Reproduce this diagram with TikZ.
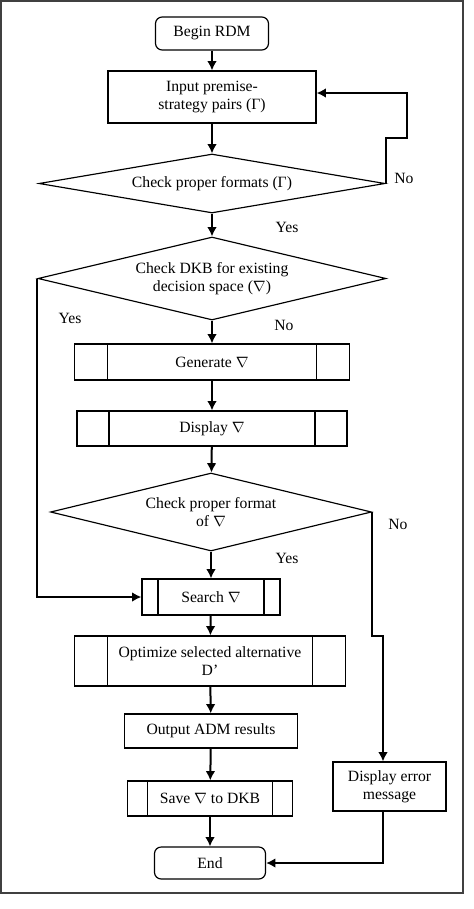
\documentclass[tikz,border=0pt]{standalone}
\usepackage{fontspec}
\setmainfont{Liberation Serif}
\usepackage{tikz}
\usepackage{xcolor}
\usetikzlibrary{arrows.meta}
\usetikzlibrary{shapes}
\usetikzlibrary{shapes.geometric}

\begin{document}
\begin{tikzpicture}[x=0.6pt, y=-0.6pt, >={Latex[length=5.6pt,width=5.8pt]},
		every node/.style={font=\fontsize{9.4}{10.8}\selectfont, align=center, inner sep=0pt},
		box/.style={draw, line width=0.7pt, rectangle},
		term/.style={box, rounded corners=4pt},
		subproc/.style={box, path picture={
			\draw[line width=0.7pt] ([xshift=#1]path picture bounding box.north west) -- ([xshift=#1]path picture bounding box.south west);
			\draw[line width=0.7pt] ([xshift=-#1]path picture bounding box.north east) -- ([xshift=-#1]path picture bounding box.south east);}},
		decision/.style={draw, line width=0.7pt, diamond, aspect=#1},
		flow/.style={->, line width=1.2pt}]
		%
		%frame
		\useasboundingbox (0,0) rectangle (474,909);
		\draw[line width=1.4pt, gray!50!black] (1,1) rectangle (463,893);
		%
		%main column
		\node[term, minimum width=67.8pt, minimum height=19.8pt] (begin) at (212,33.5) {Begin RDM};
		\node[box, minimum width=124.8pt, minimum height=31.2pt] (input) at (212,97) {Input premise-\\strategy pairs (Γ)};
		\node[decision=5.9, minimum width=207.6pt, minimum height=35.4pt] (chkfmt) at (212,183.5) {Check proper formats (Γ)};
		\node[decision=4.2, minimum width=208.8pt, minimum height=49.8pt] (chkdkb) at (212,278.5) {Check DKB for existing\\decision space ($\nabla$)};
		\node[subproc=19.8pt, minimum width=165pt, minimum height=21.6pt] (gen) at (212,362) {Generate $\nabla$};
		\node[subproc=19.2pt, minimum width=162pt, minimum height=21pt] (disp) at (212,428.5) {Display $\nabla$};
		\node[decision=4.1, minimum width=192.6pt, minimum height=46.8pt] (chkspace) at (211,512) {Check proper format\\of $\nabla$};
		\node[subproc=9.6pt, minimum width=82.8pt, minimum height=21.6pt] (search) at (211,597) {Search $\nabla$};
		\node[subproc=19.8pt, minimum width=162.6pt, minimum height=30pt] (optim) at (210,661) {Optimize selected alternative\\D’};
		\node[box, minimum width=103.8pt, minimum height=20.4pt] (output) at (211,731) {Output ADM results};
		\node[subproc=12pt, minimum width=99pt, minimum height=21pt] (save) at (210,798.5) {Save $\nabla$ to DKB};
		\node[term, minimum width=66.6pt, minimum height=19.2pt] (end) at (210,863) {End};
		%
		%error branch
		\node[box, minimum width=67.8pt, minimum height=29.4pt] (error) at (389.5,786.5) {Display error\\message};
		\coordinate (nobend) at (383,636);
		%
		%labels
		\node (no1) at (404,178) {No};
		\node (yes1) at (287,227) {Yes};
		\node (yes2) at (70,318) {Yes};
		\node (no2) at (284,325) {No};
		\node (no3) at (398,524) {No};
		\node (yes3) at (287,558) {Yes};
		%
		%connectors
		\draw[flow] (begin) -- (input);
		\draw[flow] (input) -- (chkfmt);
		\draw[flow] (chkfmt) -- (chkdkb);
		\draw[flow] (chkdkb) -- (gen);
		\draw[flow] (gen) -- (disp);
		\draw[flow] (disp) -- (chkspace);
		\draw[flow] (chkspace) -- (search);
		\draw[flow] (search) -- (optim);
		\draw[flow] (optim) -- (output);
		\draw[flow] (output) -- (save);
		\draw[flow] (save) -- (end);
		%
		%loops and branches
		\draw[flow] (chkfmt.east) -- ++(0,-46) -- ++(21,0) |- ([yshift=2.4pt]input.east);
		\draw[flow] (chkdkb.west) |- (search.west);
		\draw[flow] (chkspace.east) |- (nobend) -- (nobend |- error.north);
		\draw[flow] (nobend |- error.south) |- (end.east);
	\end{tikzpicture}
\end{document}
